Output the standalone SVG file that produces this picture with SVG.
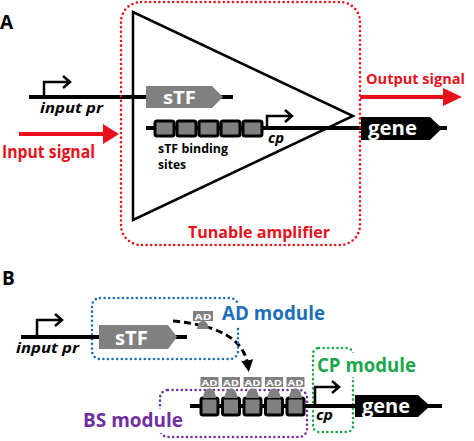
<svg xmlns="http://www.w3.org/2000/svg" width="474" height="441" viewBox="0 0 474 441">
<defs>
<style>
text{font-family:"Open Sans","Liberation Sans",sans-serif;font-weight:bold}
.dna{stroke:#000;stroke-width:4;fill:none}
.prom{stroke:#000;stroke-width:2.5;fill:none}
.bs{fill:#808080;stroke:#000;stroke-width:3}
.ad{fill:#808080}
.adt{fill:#fff;font-size:9px}
.red{fill:#e8101a}
.dot{fill:none;stroke-width:2.6;stroke-dasharray:0 4.6;stroke-linecap:round}
</style>
<marker id="ah" viewBox="0 0 10 10" refX="5" refY="5" markerWidth="4" markerHeight="4" orient="auto" markerUnits="strokeWidth">
<path d="M0,0 L10,5 L0,10 Z" fill="#000"/>
</marker>
</defs>
<rect width="474" height="441" fill="#fff"/>

<g id="panelA">
<text x="0" y="29" font-size="19" fill="#000">A</text>
<g id="input-line-A">
<line class="dna" x1="29" y1="97" x2="233" y2="97"/>
<path class="prom" d="M44,97 V82 H69 M63,76 L70,82 L63,88"/>
<text x="40" y="113" font-size="14" font-style="italic" textLength="63" lengthAdjust="spacingAndGlyphs">input pr</text>
</g>
<g id="stf-A">
<path d="M146,86 H212 L223,97 L212,108 H146 Z" fill="#808080"/>
<text x="163" y="104" font-size="18" fill="#fff" textLength="33" lengthAdjust="spacingAndGlyphs">sTF</text>
</g>
<g id="binding-A">
<line class="dna" x1="146" y1="128" x2="447" y2="128"/>
<rect class="bs" x="155" y="121" width="19" height="15" rx="2"/>
<rect class="bs" x="177" y="121" width="19" height="15" rx="2"/>
<rect class="bs" x="199" y="121" width="19" height="15" rx="2"/>
<rect class="bs" x="221" y="121" width="19" height="15" rx="2"/>
<rect class="bs" x="243" y="121" width="19" height="15" rx="2"/>
<text x="158" y="153" font-size="12.5" textLength="70" lengthAdjust="spacingAndGlyphs">sTF binding</text>
<text x="158" y="169" font-size="12.5" textLength="28" lengthAdjust="spacingAndGlyphs">sites</text>
</g>
<g id="cp-A">
<path class="prom" d="M267,128 V116 H291 M285,110 L292,116 L285,122"/>
<text x="268" y="143" font-size="14" font-style="italic" textLength="16" lengthAdjust="spacingAndGlyphs">cp</text>
</g>
<g id="amplifier">
<polygon points="133,12 133,220 353,116" fill="none" stroke="#000" stroke-width="2.5" stroke-linejoin="miter"/>
<rect class="dot" x="121" y="2" width="239" height="243" rx="20" stroke="#e8101a"/>
<text x="188" y="238" font-size="16" class="red" textLength="142" lengthAdjust="spacingAndGlyphs">Tunable amplifier</text>
</g>
<g id="gene-A">
<path d="M361,117 H430 L442,128.5 L430,140 H361 Z" fill="#000"/>
<text x="368" y="135" font-size="19" fill="#fff" textLength="49" lengthAdjust="spacingAndGlyphs">gene</text>
</g>
<g id="input-signal">
<line x1="19" y1="134" x2="105" y2="134" stroke="#e8101a" stroke-width="4"/>
<polygon points="103,124 119,134 103,144" fill="#e8101a"/>
<text x="2" y="158" font-size="17" class="red" textLength="93" lengthAdjust="spacingAndGlyphs">Input signal</text>
</g>
<g id="output-signal">
<line x1="360" y1="97" x2="445" y2="97" stroke="#e8101a" stroke-width="4"/>
<polygon points="443,88 462,97 443,106" fill="#e8101a"/>
<text x="465" y="84" font-size="15" class="red" text-anchor="end" textLength="99" lengthAdjust="spacingAndGlyphs">Output signal</text>
</g>
</g>

<g id="panelB">
<text x="2" y="285" font-size="19" fill="#000">B</text>
<g id="connectors">
<path d="M173,321 C 215,325 244,337 248,366" fill="none" stroke="#000" stroke-width="3" stroke-dasharray="7 4" marker-end="url(#ah)"/>
</g>
<g id="ad-module">
<rect class="dot" x="92" y="298" width="146" height="61" rx="8" stroke="#1b6fb8"/>
<rect x="219" y="303" width="110" height="23" fill="#fff"/>
<text x="222" y="320" font-size="19" fill="#1b6fb8" textLength="103" lengthAdjust="spacingAndGlyphs">AD module</text>
</g>
<g id="input-line-B">
<line class="dna" x1="21" y1="337" x2="187" y2="337"/>
<path class="prom" d="M37,337 V320 H61 M55,314 L62,320 L55,326"/>
<text x="16" y="353" font-size="14" font-style="italic" textLength="63" lengthAdjust="spacingAndGlyphs">input pr</text>
</g>
<g id="stf-B">
<path d="M99,325 H168 L177,337 L168,349 H99 Z" fill="#808080"/>
<text x="115" y="345" font-size="19" fill="#fff" textLength="33" lengthAdjust="spacingAndGlyphs">sTF</text>
</g>
<g id="ad-free">
<rect class="ad" x="193" y="311" width="20" height="10"/>
<text class="adt" x="194.5" y="319.5" textLength="17" lengthAdjust="spacingAndGlyphs">AD</text>
<path class="ad" d="M197,329 C198,323 200,321 203,321 C206,321 208,323 209,329 Z"/>
</g>
<g id="bs-module">
<rect class="dot" x="160" y="390" width="147" height="47" rx="8" stroke="#7030a0"/>
<rect x="80" y="409" width="106" height="24" fill="#fff"/>
<text x="83" y="427" font-size="19" fill="#7030a0" textLength="100" lengthAdjust="spacingAndGlyphs">BS module</text>
</g>
<g id="cp-module">
<rect class="dot" x="313" y="348" width="40" height="84" rx="6" stroke="#1aa64a"/>
<rect x="316" y="353" width="104" height="24" fill="#fff"/>
<text x="317" y="372" font-size="19" fill="#1aa64a" textLength="99" lengthAdjust="spacingAndGlyphs">CP module</text>
</g>
<g id="binding-B">
<line class="dna" x1="190" y1="406" x2="442" y2="406"/>
<rect class="bs" x="201" y="398" width="17" height="17" rx="2"/>
<rect class="bs" x="222.5" y="398" width="17" height="17" rx="2"/>
<rect class="bs" x="244" y="398" width="17" height="17" rx="2"/>
<rect class="bs" x="265.5" y="398" width="17" height="17" rx="2"/>
<rect class="bs" x="287" y="398" width="17" height="17" rx="2"/>
<g id="bound-ads">
<rect class="ad" x="200.5" y="377" width="18" height="10"/>
<rect class="ad" x="222" y="377" width="18" height="10"/>
<rect class="ad" x="243.5" y="377" width="18" height="10"/>
<rect class="ad" x="265" y="377" width="18" height="10"/>
<rect class="ad" x="286.5" y="377" width="18" height="10"/>
<text class="adt" x="201.5" y="385.5" textLength="16" lengthAdjust="spacingAndGlyphs">AD</text>
<text class="adt" x="223" y="385.5" textLength="16" lengthAdjust="spacingAndGlyphs">AD</text>
<text class="adt" x="244.5" y="385.5" textLength="16" lengthAdjust="spacingAndGlyphs">AD</text>
<text class="adt" x="266" y="385.5" textLength="16" lengthAdjust="spacingAndGlyphs">AD</text>
<text class="adt" x="287.5" y="385.5" textLength="16" lengthAdjust="spacingAndGlyphs">AD</text>
<path class="ad" d="M203,398 C204,391 206,388.5 209.5,388.5 C213,388.5 215,391 216,398 Z"/>
<path class="ad" d="M224.5,398 C225.5,391 227.5,388.5 231,388.5 C234.5,388.5 236.5,391 237.5,398 Z"/>
<path class="ad" d="M246,398 C247,391 249,388.5 252.5,388.5 C256,388.5 258,391 259,398 Z"/>
<path class="ad" d="M267.5,398 C268.5,391 270.5,388.5 274,388.5 C277.5,388.5 279.5,391 280.5,398 Z"/>
<path class="ad" d="M289,398 C290,391 292,388.5 295.5,388.5 C299,388.5 301,391 302,398 Z"/>
</g>
</g>
<g id="cp-B">
<path class="prom" d="M315,406 V387 H338 M332,381 L339,387 L332,393"/>
<text x="316" y="420" font-size="14" font-style="italic" textLength="17" lengthAdjust="spacingAndGlyphs">cp</text>
</g>
<g id="gene-B">
<path d="M355,395 H418 L430,406 L418,417 H355 Z" fill="#000"/>
<text x="362" y="413" font-size="20" fill="#fff" textLength="48" lengthAdjust="spacingAndGlyphs">gene</text>
</g>
</g>
</svg>
